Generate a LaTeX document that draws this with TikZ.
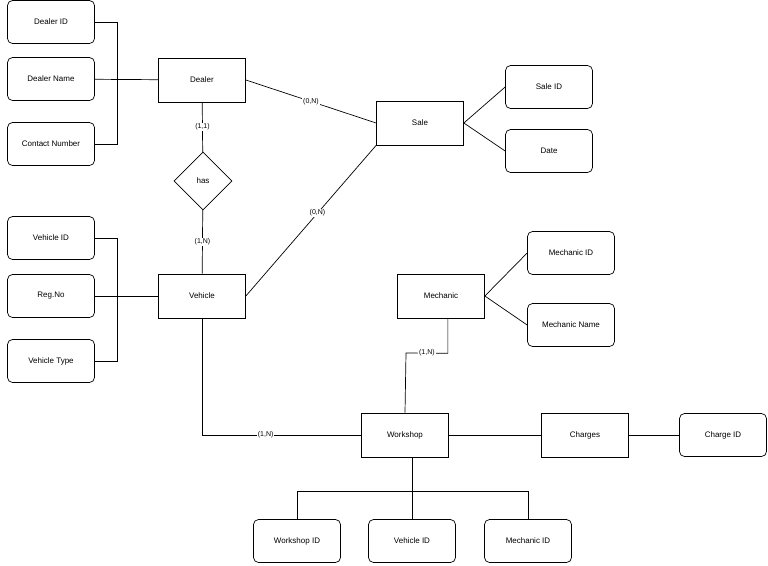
\documentclass[tikz,border=0pt]{standalone}
\usepackage{fontspec}
\setmainfont{Liberation Sans}
\usetikzlibrary{shapes.geometric}
\tikzset{
attr/.style={draw, rounded corners=5pt, minimum width=87pt, minimum height=43pt, font=\fontsize{8}{9}\selectfont},
ent/.style={draw, minimum width=87pt, minimum height=44pt, font=\fontsize{8}{9}\selectfont},
rel/.style={draw, diamond, aspect=1, minimum size=58pt, inner sep=0pt, font=\fontsize{8}{9}\selectfont},
card/.style={fill=white, inner sep=1pt, font=\fontsize{7}{8}\selectfont},
}
\begin{document}
\begin{tikzpicture}[x=1pt,y=-1pt,line width=0.7pt]
\useasboundingbox (0,0) rectangle (768,565);
% dealer side
\node[attr] (did) at (51,22) {Dealer ID};
\node[attr] (dname) at (51,79) {Dealer Name};
\node[attr] (dcon) at (51,144) {Contact Number};
\node[ent] (dealer) at (202,80) {Dealer};
\node[ent] (sale) at (420,123) {Sale};
\node[attr] (sid) at (549,87) {Sale ID};
\node[attr] (sdate) at (549,151) {Date};
\node[rel] (has) at (203,181) {has};
% vehicle side
\node[attr] (vid) at (51,238) {Vehicle ID};
\node[attr] (vreg) at (51,296) {Reg.No};
\node[attr] (vtype) at (51,361) {Vehicle Type};
\node[ent] (vehicle) at (202,296) {Vehicle};
% mechanic and workshop
\node[ent] (mech) at (441,296) {Mechanic};
\node[attr] (mid) at (571,253) {Mechanic ID};
\node[attr] (mname) at (571,325) {Mechanic Name};
\node[ent] (ws) at (405,435) {Workshop};
\node[ent] (chg) at (585,435) {Charges};
\node[attr] (cid) at (723,435) {Charge ID};
\node[attr] (wsid) at (297,541) {Workshop ID};
\node[attr] (wvid) at (412,541) {Vehicle ID};
\node[attr] (wmid) at (528,541) {Mechanic ID};

\draw (did.east) -| (117,144) -- (dcon.east);
\draw (dname) -- (dealer);
\draw (vid.east) -| (117,361) -- (vtype.east);
\draw (vreg) -- (vehicle);
\draw (dealer.east) -- node[card,pos=0.5]{(0,N)} (sale.west);
\draw (dealer) -- node[card]{(1,1)} (has);
\draw (has) -- node[card,pos=0.5]{(1,N)} (vehicle);
\draw (vehicle.east) -- node[card,pos=0.55]{(0,N)} (sale.south west);
\draw (sale.east) -- (sid.west);
\draw (sale.east) -- (sdate.west);
\draw (mech.east) -- (mid.west);
\draw (mech.east) -- (mname.west);
\draw (mech.south east) ++(-37,0) coordinate (m1) -- ++(0,35) coordinate (m2) -- node[card,pos=0.5]{(1,N)} (406,353) -- (ws.north);
\draw (vehicle.south) |- node[card,pos=0.7]{(1,N)} (ws.west);
\draw (ws) -- (chg);
\draw (chg) -- (cid);
\draw (412,457) -- (wvid.north);
\draw (wsid.north) |- (297,491) -- (528,491) -- (wmid.north);
\end{tikzpicture}
\end{document}
